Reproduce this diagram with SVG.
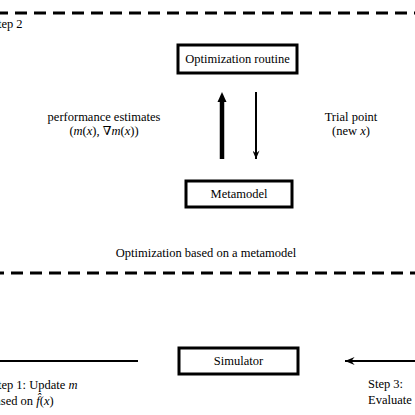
<svg xmlns="http://www.w3.org/2000/svg" width="415" height="415" viewBox="0 0 415 415" font-family="'Liberation Serif', 'Times New Roman', Times, 'DejaVu Serif', serif">
<style>
text{font-family:'Liberation Serif','Times New Roman',Times,'DejaVu Serif',serif;font-size:12.5px;fill:#000}
.box{fill:#fff;stroke:#000;stroke-width:3}
.dash{stroke:#000;stroke-width:3;stroke-dasharray:12 7;fill:none}
.ln{stroke:#000;fill:none}
</style>
<defs>
<marker id="ahThin" viewBox="0 0 10 12" markerWidth="7" markerHeight="10" refX="5" refY="12" orient="0" markerUnits="userSpaceOnUse">
<path d="M0,0 L5,12 L10,0 L5,4 Z" fill="#000"/>
</marker>
<marker id="ahLeft" viewBox="0 0 12 10" markerWidth="11" markerHeight="8" refX="0" refY="5" orient="0" markerUnits="userSpaceOnUse">
<path d="M0,5 L12,0 L8,5 L12,10 Z" fill="#000"/>
</marker>
</defs>
<rect width="415" height="415" fill="#fff"/>
<g id="separators">
<line class="dash" x1="0" y1="13" x2="415" y2="13" stroke-dashoffset="4"/>
<line class="dash" x1="0" y1="273" x2="415" y2="273" stroke-dashoffset="8"/>
</g>
<g id="connectors">
<line class="ln" x1="222" y1="159" x2="222" y2="100" stroke-width="4.5"/>
<path d="M217.5,102 L222,92 L226.5,102 Z" fill="#000"/>
<line class="ln" x1="256" y1="92" x2="256" y2="159" stroke-width="2" marker-end="url(#ahThin)"/>
<line class="ln" x1="0" y1="361" x2="138" y2="361" stroke-width="2"/>
<line class="ln" x1="415" y1="361" x2="345" y2="361" stroke-width="2" marker-end="url(#ahLeft)"/>
</g>
<g id="optimization-routine">
<rect class="box" x="178" y="45" width="119" height="28"/>
<text x="237.5" y="63" text-anchor="middle">Optimization routine</text>
</g>
<g id="metamodel">
<rect class="box" x="186" y="181" width="106" height="26"/>
<text x="239" y="197.5" text-anchor="middle">Metamodel</text>
</g>
<g id="simulator">
<rect class="box" x="179" y="348" width="119" height="26"/>
<text x="238.5" y="365" text-anchor="middle">Simulator</text>
</g>
<g id="labels">
<text x="-9" y="28">Step 2</text>
<text x="104" y="121" text-anchor="middle">performance estimates</text>
<text x="104" y="135" text-anchor="middle">(<tspan font-style="italic">m</tspan>(<tspan font-style="italic">x</tspan>), ∇<tspan font-style="italic">m</tspan>(<tspan font-style="italic">x</tspan>))</text>
<text x="351" y="121" text-anchor="middle">Trial point</text>
<text x="351" y="135" text-anchor="middle">(new <tspan font-style="italic">x</tspan>)</text>
<text x="206" y="257" text-anchor="middle">Optimization based on a metamodel</text>
<text x="-9" y="389">Step 1: Update <tspan font-style="italic">m</tspan></text>
<text x="-11" y="405">based on <tspan font-style="italic">f̂</tspan>(<tspan font-style="italic">x</tspan>)</text>
<text x="368" y="388">Step 3:</text>
<text x="368" y="404">Evaluate</text>
</g>
</svg>
